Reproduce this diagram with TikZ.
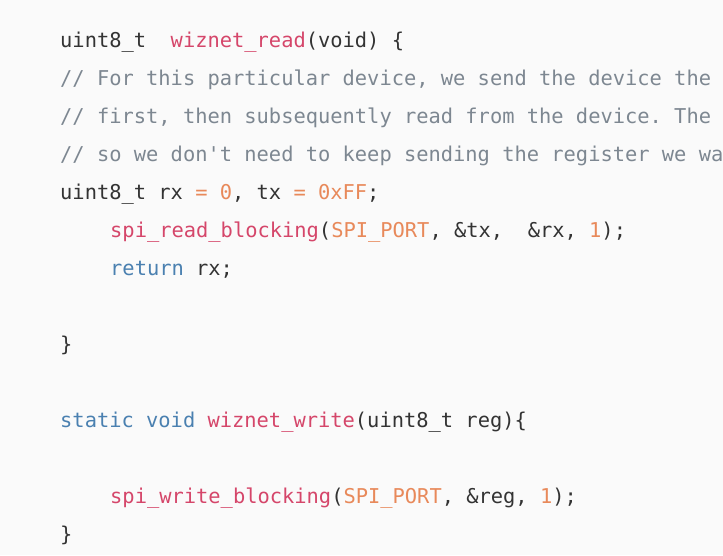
\documentclass[tikz,border=0pt]{standalone}
\usepackage{fontspec}
\setmonofont{DejaVu Sans Mono}
\usetikzlibrary{calc}
\definecolor{codebg}{HTML}{FAFAFA}
\definecolor{codetxt}{HTML}{333333}
\definecolor{codefn}{HTML}{D5466A}
\definecolor{codenum}{HTML}{E8895A}
\definecolor{codekw}{HTML}{4A80B0}
\definecolor{codecmt}{HTML}{7D8791}
\newcommand{\cfn}[1]{\textcolor{codefn}{#1}}
\newcommand{\cnum}[1]{\textcolor{codenum}{#1}}
\newcommand{\ckw}[1]{\textcolor{codekw}{#1}}

\begin{document}
\begin{tikzpicture} [x=1pt, y=-1pt, code/.style={anchor=base west, inner sep=0, text=codetxt, font=\ttfamily\fontsize{20.4}{24}\selectfont}]
\fill[codebg] (0,0) rectangle (723,555);
\clip (0,0) rectangle (723,555);
\coordinate (L) at (60,47.5);
\coordinate (I) at (110,47.5);
\node[code] (readhead) at (L) {uint8\_t\ \ \cfn{wiznet\_read}(void) \{};
\foreach \txt [count=\i] in {{// For this particular device, we send the device the},
 {// first, then subsequently read from the device. The},
 {// so we don't need to keep sending the register we wa}} {
 \node[code, text=codecmt] (cmt\i) at ($(L)+(0,38*\i)$) {\txt};
}
\node[code] (vars) at ($(L)+(0,152)$) {uint8\_t rx \cnum{= 0}, tx \cnum{= 0xFF};};
\node[code] (readcall) at ($(I)+(0,190)$) {\cfn{spi\_read\_blocking}(\cnum{SPI\_PORT}, \&tx,\ \ \&rx, \cnum{1});};
\node[code] (ret) at ($(I)+(0,228)$) {\ckw{return} rx;};
\node[code] (readend) at ($(L)+(0,304)$) {\}};
\node[code] (writehead) at ($(L)+(0,380)$) {\ckw{static void} \cfn{wiznet\_write}(uint8\_t reg)\{};
\node[code] (writecall) at ($(I)+(0,456)$) {\cfn{spi\_write\_blocking}(\cnum{SPI\_PORT}, \&reg, \cnum{1});};
\node[code] (writeend) at ($(L)+(0,494)$) {\}};
\end{tikzpicture}
\end{document}
